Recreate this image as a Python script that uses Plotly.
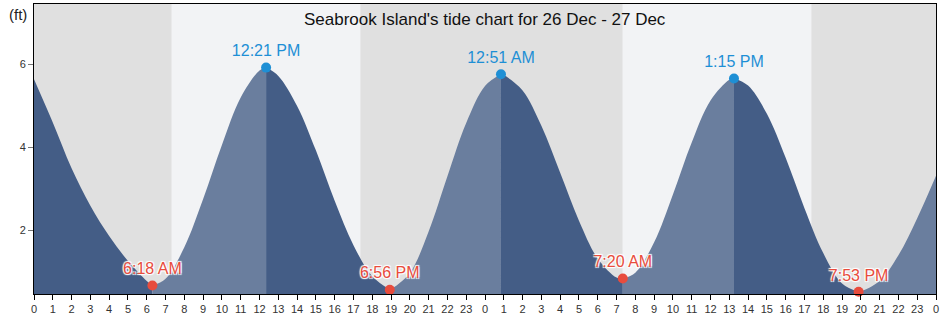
import plotly.graph_objects as go

# ---- data ----
hours = list(range(0, 49))
heights = [5.64, 4.6, 3.5, 2.6, 1.87, 1.27, 0.79,
           0.84, 1.6, 2.76, 4.06, 5.2, 5.85,
           5.72, 5.0, 3.93, 2.72, 1.65, 0.9,
           0.59, 0.98, 1.98, 3.31, 4.59, 5.48,
           5.74, 5.37, 4.52, 3.39, 2.24, 1.33, 0.87,
           0.99, 1.72, 2.87, 4.12, 5.13, 5.63,
           5.49, 4.81, 3.75, 2.54, 1.46, 0.73,
           0.54, 0.79, 1.41, 2.3, 3.32]

ext_times = [6.3, 12.35, 18.933, 24.85, 31.333, 37.25, 43.883]
ext_heights = [0.68, 5.92, 0.58, 5.76, 0.85, 5.66, 0.53]
ext_labels = ["6:18 AM", "12:21 PM", "6:56 PM", "12:51 AM", "7:20 AM", "1:15 PM", "7:53 PM"]
ext_kind = ["low", "high", "low", "high", "low", "high", "low"]

# sunrise / sunset (hours from start of 26 Dec)
sunrise = [7.33, 31.33]
sunset = [17.37, 41.37]

tick_vals = list(range(0, 49))
tick_text = [str(h % 24) for h in tick_vals]
title = "Seabrook Island's tide chart for 26 Dec - 27 Dec"

# ---- styles ----
NIGHT = "#e0e0e0"
DAY = "#f2f3f5"
FALL = "#445d86"
RISE = "#6a7e9e"
LOW_C = "#e84c3d"
HIGH_C = "#1e8fd5"
FONT = "Arial, Liberation Sans, sans-serif"

fig = go.Figure()

# background bands
edges = [0]
for sr, ss in zip(sunrise, sunset):
    edges += [sr, ss]
edges.append(48)
for i in range(len(edges) - 1):
    fig.add_shape(type="rect", xref="x", yref="paper", x0=edges[i], x1=edges[i + 1],
                  y0=0, y1=1, fillcolor=NIGHT if i % 2 == 0 else DAY,
                  line_width=0, layer="below")

# merged series
pts = sorted(zip(hours + ext_times, heights + ext_heights))
bounds = [0] + ext_times + [48]
for i in range(len(bounds) - 1):
    a, b = bounds[i], bounds[i + 1]
    seg = [(t, h) for t, h in pts if a - 1e-9 <= t <= b + 1e-9]
    xs = [p[0] for p in seg]
    ys = [p[1] for p in seg]
    falling = ys[0] > ys[-1]
    col = FALL if falling else RISE
    fig.add_trace(go.Scatter(x=xs, y=ys, mode="lines", line=dict(width=0, shape="spline", smoothing=1.0),
                             fill="tozeroy", fillcolor=col, hoverinfo="skip", showlegend=False))

# extremes
for kind, col in (("low", LOW_C), ("high", HIGH_C)):
    xs = [t for t, k in zip(ext_times, ext_kind) if k == kind]
    ys = [h for h, k in zip(ext_heights, ext_kind) if k == kind]
    tx = [l for l, k in zip(ext_labels, ext_kind) if k == kind]
    fig.add_trace(go.Scatter(x=xs, y=ys, mode="markers+text", text=tx, textposition="top center",
                             marker=dict(size=10, color=col),
                             textfont=dict(size=16, color=col, family=FONT,
                                           shadow="1px 1px 1px #fff, -1px -1px 1px #fff, 1px -1px 1px #fff, -1px 1px 1px #fff" if kind == "low" else "none"),
                             showlegend=False, hoverinfo="skip", cliponaxis=False))

fig.update_layout(
    width=942, height=318,
    margin=dict(l=34, r=4, t=3, b=22),
    paper_bgcolor="white", plot_bgcolor=DAY,
    font=dict(family=FONT, color="#333"),
    showlegend=False,
    xaxis=dict(range=[0, 48], tickmode="array", tickvals=tick_vals, ticktext=tick_text,
               ticks="outside", ticklen=5, tickcolor="#000", tickfont=dict(size=11, color="#333"),
               showgrid=False, zeroline=False, showline=True, linecolor="#000", linewidth=1, mirror=True),
    yaxis=dict(range=[0.476, 7.45], tickvals=[2, 4, 6], ticks="outside", ticklen=5, tickcolor="#777",
               tickfont=dict(size=11, color="#333"),
               showgrid=False, zeroline=False, showline=True, linecolor="#000", linewidth=1, mirror=True),
    annotations=[
        dict(text=title, xref="paper", yref="paper", x=0.5, y=0.985, xanchor="center", yanchor="top",
             showarrow=False, font=dict(size=17, color="#111", family=FONT)),
        dict(text="(ft)", xref="paper", yref="paper", x=-0.0299, y=1.0, xanchor="left", yanchor="top",
             showarrow=False, font=dict(size=15, color="#222", family=FONT)),
    ],
)

fig.write_html("out.html")
